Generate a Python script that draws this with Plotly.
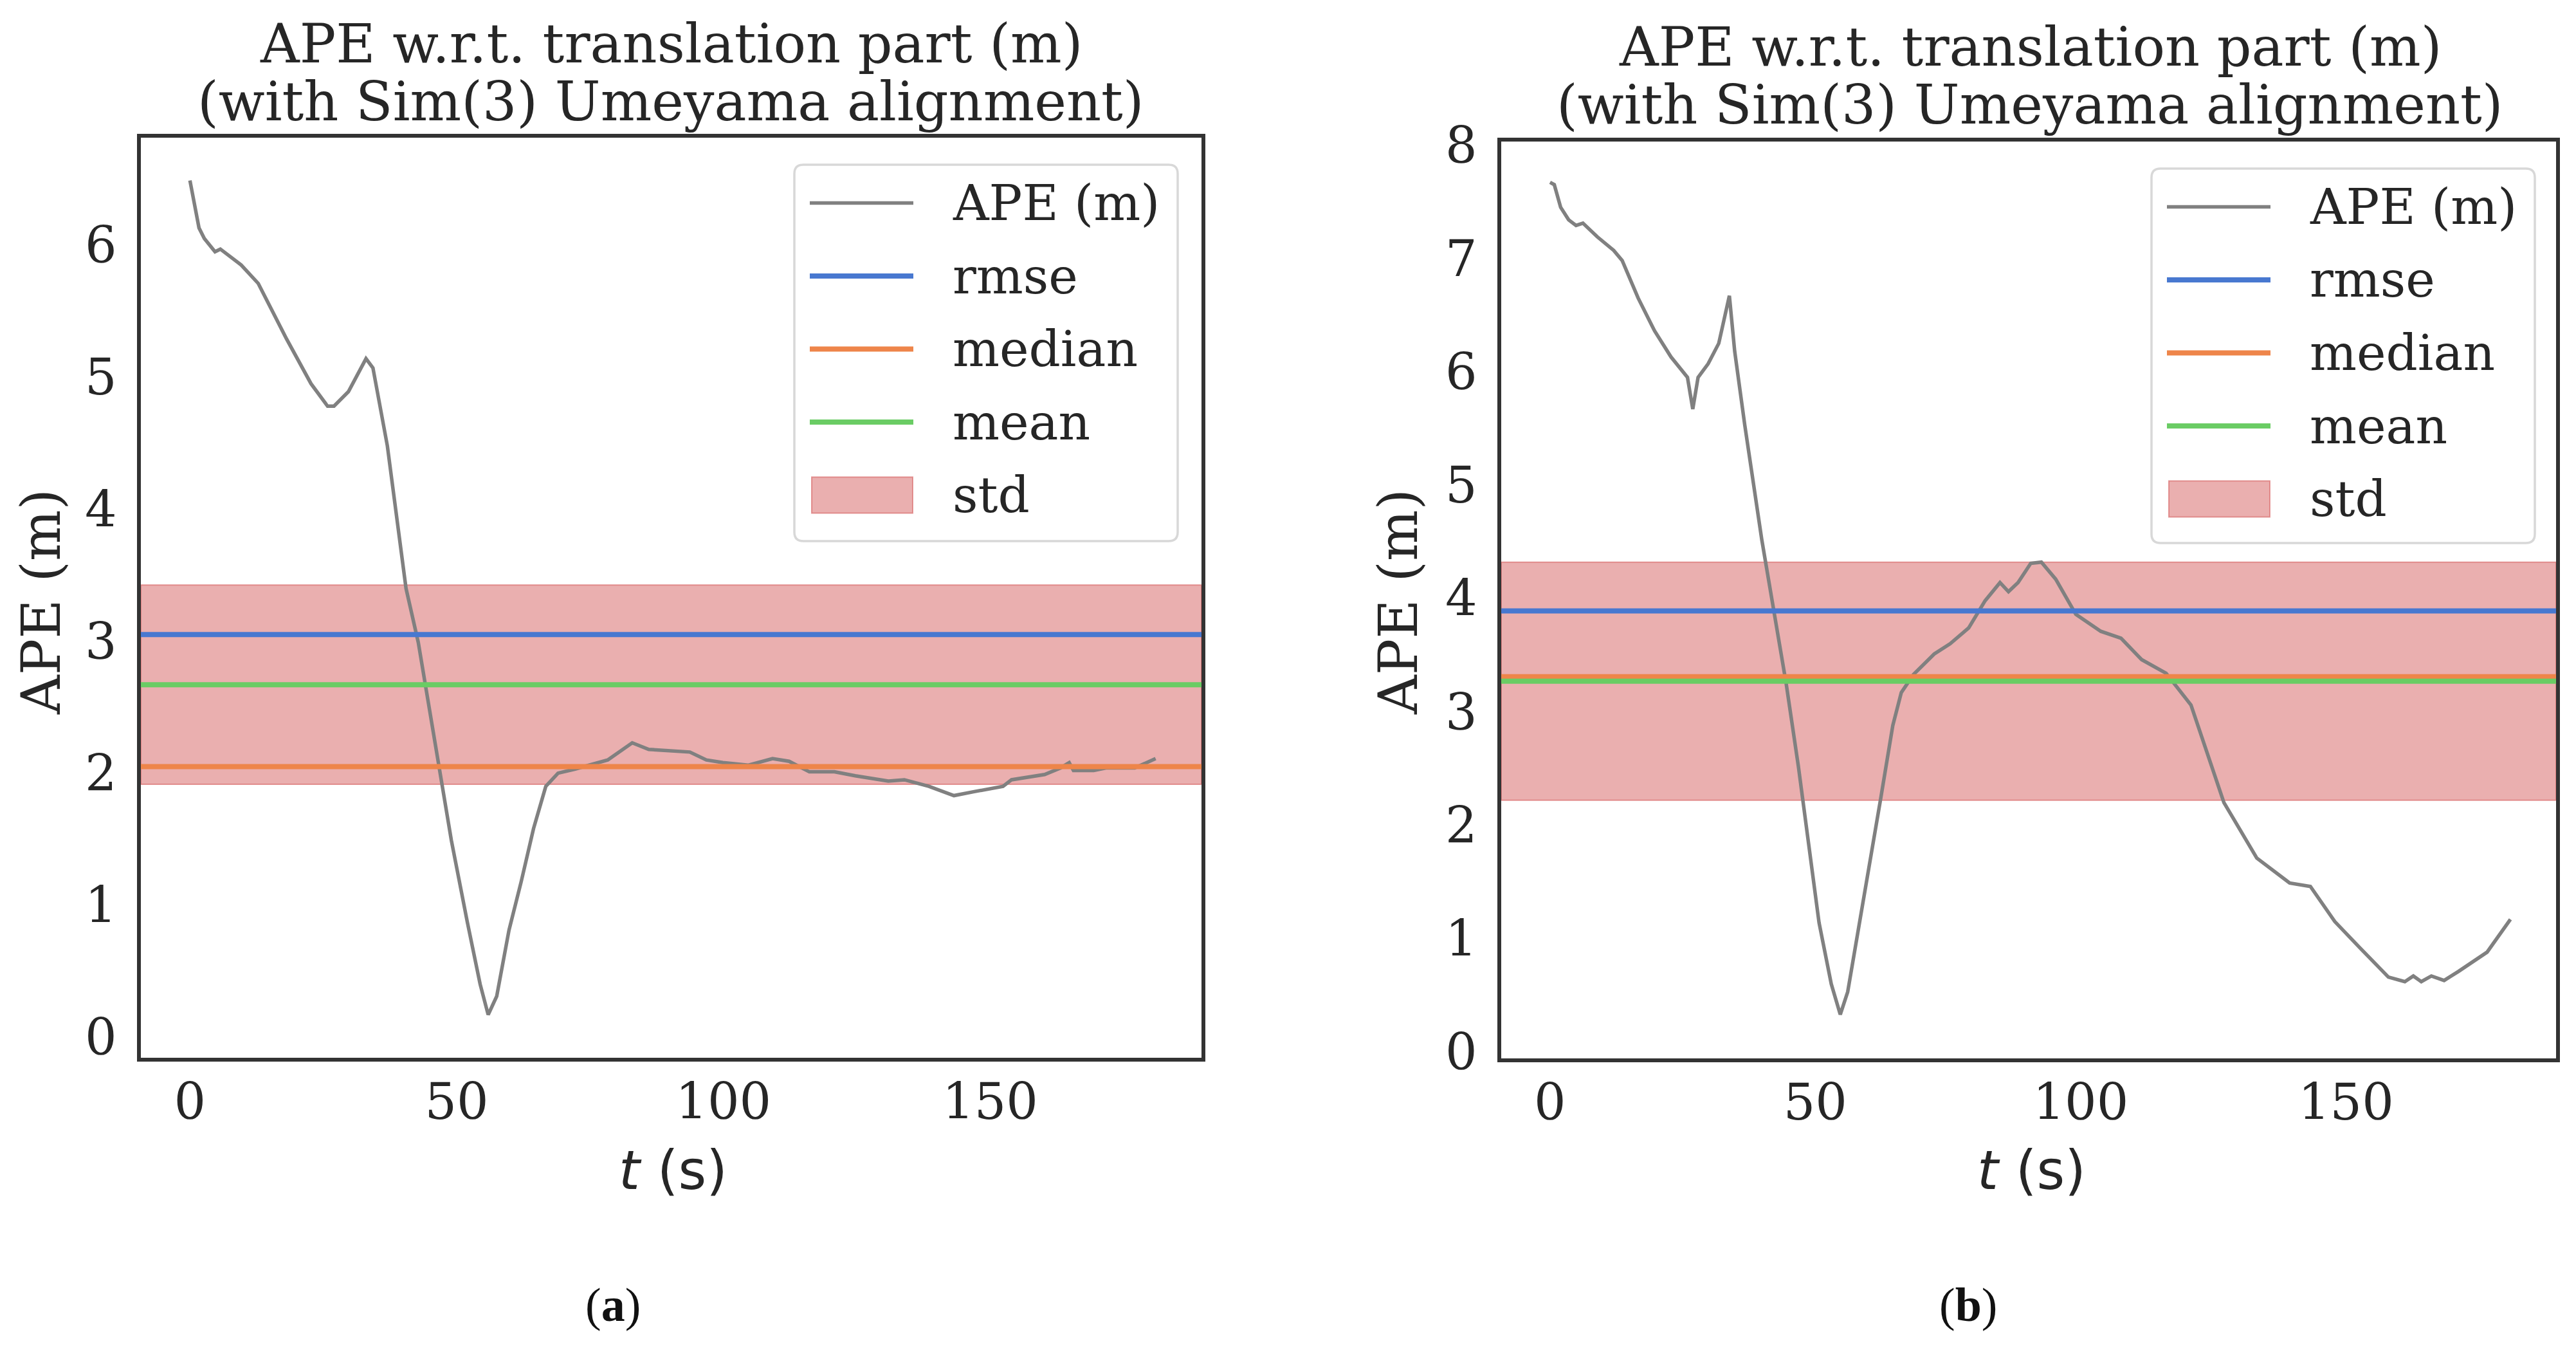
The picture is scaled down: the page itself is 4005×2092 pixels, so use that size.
import plotly.graph_objects as go

# APE courbe (a)
t_a = [0, 1.7, 2.7, 4.7, 5.7, 9.6, 12.8, 18.1, 22.7, 25.8, 27.0, 29.7, 33.0, 34.3, 37.0,
       40.5, 42.8, 45.9, 46.6, 49.0, 52.0, 54.4, 55.9, 57.5, 59.8, 62.1, 64.4, 66.7, 69.0,
       72.1, 78.3, 82.9, 86.0, 93.7, 96.8, 99.9, 104.6, 109.2, 112.3, 116.1, 120.8, 124.7,
       130.9, 133.9, 138.5, 143.2, 147.0, 152.4, 154.0, 160.2, 163.2, 164.8, 165.6, 169.4,
       171.7, 177.1, 181.0]
ape_a = [6.49, 6.13, 6.05, 5.95, 5.97, 5.85, 5.71, 5.29, 4.95, 4.78, 4.78, 4.89, 5.14, 5.07,
         4.48, 3.40, 2.99, 2.25, 2.08, 1.49, 0.87, 0.40, 0.17, 0.31, 0.81, 1.18, 1.58, 1.90,
         2.00, 2.03, 2.10, 2.23, 2.18, 2.16, 2.10, 2.08, 2.06, 2.11, 2.09, 2.01, 2.01, 1.98,
         1.94, 1.95, 1.90, 1.83, 1.86, 1.90, 1.95, 1.99, 2.04, 2.08, 2.02, 2.02, 2.04, 2.04,
         2.11]
rmse_a, median_a, mean_a, std_a = 3.05, 2.05, 2.67, 0.755

# APE courbe (b)
t_b = [0, 0.8, 2.0, 3.5, 4.9, 6.2, 8.9, 12.0, 13.6, 16.6, 19.7, 22.8, 25.9, 26.9, 27.9, 29.8,
       31.8, 32.9, 33.8, 34.8, 36.7, 39.9, 42.2, 44.5, 46.8, 48.4, 50.7, 53.0, 54.7, 56.1,
       59.2, 62.3, 64.6, 66.2, 68.5, 72.4, 75.4, 78.9, 82.0, 84.8, 86.4, 88.2, 90.6, 92.6,
       95.3, 99.1, 103.8, 107.6, 111.5, 116.1, 120.8, 127.0, 133.2, 139.4, 143.3, 147.9,
       152.6, 158.0, 161.1, 162.7, 164.2, 166.1, 168.5, 171.2, 176.6, 178.9, 181.0]
ape_b = [7.67, 7.65, 7.45, 7.34, 7.29, 7.31, 7.19, 7.07, 6.98, 6.65, 6.36, 6.13, 5.95, 5.67,
         5.95, 6.07, 6.25, 6.47, 6.67, 6.18, 5.53, 4.52, 3.87, 3.25, 2.52, 1.97, 1.14, 0.60,
         0.33, 0.53, 1.36, 2.23, 2.88, 3.17, 3.33, 3.51, 3.60, 3.74, 3.98, 4.14, 4.06, 4.14,
         4.31, 4.32, 4.17, 3.86, 3.71, 3.65, 3.46, 3.34, 3.06, 2.20, 1.71, 1.49, 1.46, 1.15,
         0.92, 0.66, 0.62, 0.67, 0.62, 0.67, 0.63, 0.71, 0.88, 1.03, 1.17]
rmse_b, median_b, mean_b, std_b = 3.89, 3.31, 3.27, 1.05

legende_noms = ['APE (m)', 'rmse', 'median', 'mean', 'std']
x_ticks = [0, 50, 100, 150]

W, H = 4005, 2092
OFF = 8  # marge du <body> de la page html
x_range = [-9.2, 189.6]
titre1 = "APE w.r.t. translation part (m)"
titre2 = "(with Sim(3) Umeyama alignment)"
couleurs = {'APE (m)': '#808080', 'rmse': '#4878d0', 'median': '#ee854a',
            'mean': '#6acc64', 'std': '#d65f5f'}
texte = '#262626'
serif = 'DejaVu Serif'


def px_x(p):
    return (p - OFF) / W


def px_y(p):
    return 1 - (p - OFF) / H


fig = go.Figure()


def ajouter_panneau(t, ape, rmse, median, mean, std, suffixe):
    xa = 'x' + suffixe
    ya = 'y' + suffixe
    x0, x1 = x_range
    # bande std (sous les courbes)
    fig.add_trace(go.Scatter(
        x=[x0, x1, x1, x0, x0], y=[mean - std, mean - std, mean + std, mean + std, mean - std],
        fill='toself', fillcolor='rgba(214,95,95,0.5)', mode='lines',
        line=dict(color='rgba(214,95,95,0.6)', width=2),
        name='std', showlegend=False, xaxis=xa, yaxis=ya))
    fig.add_trace(go.Scatter(
        x=t, y=ape, mode='lines', line=dict(color=couleurs['APE (m)'], width=5.5),
        name='APE (m)', showlegend=False, xaxis=xa, yaxis=ya))
    for nom, val in [('rmse', rmse), ('median', median), ('mean', mean)]:
        fig.add_trace(go.Scatter(
            x=[x0, x1], y=[val, val], mode='lines',
            line=dict(color=couleurs[nom], width=8),
            name=nom, showlegend=False, xaxis=xa, yaxis=ya))


ajouter_panneau(t_a, ape_a, rmse_a, median_a, mean_a, std_a, '')
ajouter_panneau(t_b, ape_b, rmse_b, median_b, mean_b, std_b, '2')


# légende dessinée (boîte arrondie, échantillons, textes)
def legende(gauche, haut, largeur, hauteur):
    r = 14
    g, d, h, b = gauche, gauche + largeur, haut, haut + hauteur
    chemin = (f"M {px_x(g + r)} {px_y(h)} L {px_x(d - r)} {px_y(h)} "
              f"Q {px_x(d)} {px_y(h)} {px_x(d)} {px_y(h + r)} "
              f"L {px_x(d)} {px_y(b - r)} Q {px_x(d)} {px_y(b)} {px_x(d - r)} {px_y(b)} "
              f"L {px_x(g + r)} {px_y(b)} Q {px_x(g)} {px_y(b)} {px_x(g)} {px_y(b - r)} "
              f"L {px_x(g)} {px_y(h + r)} Q {px_x(g)} {px_y(h)} {px_x(g + r)} {px_y(h)} Z")
    fig.add_shape(type='path', path=chemin, xref='paper', yref='paper',
                  fillcolor='rgba(255,255,255,0.8)', line=dict(color='#d8d8d8', width=3.5))
    for i, nom in enumerate(legende_noms):
        cy = haut + 59.5 + 113.5 * i
        if nom == 'std':
            fig.add_shape(type='rect', xref='paper', yref='paper',
                          x0=px_x(gauche + 27), x1=px_x(gauche + 184),
                          y0=px_y(cy - 28), y1=px_y(cy + 28),
                          fillcolor='rgba(214,95,95,0.5)',
                          line=dict(color='rgba(214,95,95,0.6)', width=2))
        else:
            fig.add_shape(type='line', xref='paper', yref='paper',
                          x0=px_x(gauche + 24), x1=px_x(gauche + 185),
                          y0=px_y(cy), y1=px_y(cy),
                          line=dict(color=couleurs[nom], width=5.5 if i == 0 else 8))
        fig.add_annotation(x=px_x(gauche + 244), y=px_y(cy), xref='paper', yref='paper',
                           text=nom, showarrow=False, xanchor='left', yanchor='middle',
                           font=dict(family=serif, size=77, color=texte))


legende(1235, 256, 596, 585)
legende(3345, 262, 596, 582)

axe_commun = dict(showline=True, mirror=True, linecolor='#333333', linewidth=5.5,
                  showgrid=False, zeroline=False, ticks='', ticklen=0, automargin=False,
                  tickfont=dict(family=serif, size=78, color=texte))

fig.update_layout(
    width=W, height=H,
    margin=dict(l=0, r=0, t=0, b=0, autoexpand=False),
    paper_bgcolor='white', plot_bgcolor='white',
    showlegend=False,
    xaxis=dict(axe_commun, domain=[px_x(219), px_x(1868)], range=x_range, anchor='y',
               tickvals=x_ticks, ticklabelstandoff=-4),
    yaxis=dict(axe_commun, domain=[px_y(1644), px_y(214)], range=[-0.156, 6.814], anchor='x',
               tickvals=[0, 1, 2, 3, 4, 5, 6], ticklabelstandoff=16),
    xaxis2=dict(axe_commun, domain=[px_x(2334), px_x(3974)], range=x_range, anchor='y2',
                tickvals=x_ticks, ticklabelstandoff=-4),
    yaxis2=dict(axe_commun, domain=[px_y(1645), px_y(220)], range=[-0.057, 8.03], anchor='x2',
                tickvals=[0, 1, 2, 3, 4, 5, 6, 7, 8], ticklabelstandoff=16),
)

# titres des sous-figures (deux lignes)
for cx, y1, y2 in [(1043, 68, 158), (3156, 73, 163)]:
    for ligne, cy in [(titre1, y1), (titre2, y2)]:
        fig.add_annotation(x=px_x(cx), y=px_y(cy), xref='paper', yref='paper', text=ligne,
                           showarrow=False, xanchor='center', yanchor='middle',
                           font=dict(family=serif, size=84, color=texte))

# titres des axes
for cx in [1046, 3158]:
    fig.add_annotation(x=px_x(cx), y=px_y(1819), xref='paper', yref='paper',
                       text='<i>t</i> (s)', showarrow=False, xanchor='center', yanchor='middle',
                       font=dict(family='DejaVu Sans', size=84, color=texte))
for cx in [64, 2174]:
    fig.add_annotation(x=px_x(cx), y=px_y(936), xref='paper', yref='paper',
                       text='APE (m)', showarrow=False, textangle=-90,
                       xanchor='center', yanchor='middle',
                       font=dict(family=serif, size=84, color=texte))

# légendes (a) et (b)
for cx, lettre in [(953, 'a'), (3060, 'b')]:
    fig.add_annotation(x=px_x(cx), y=px_y(2028), xref='paper', yref='paper',
                       text='(<b>' + lettre + '</b>)', showarrow=False,
                       xanchor='center', yanchor='middle',
                       font=dict(family='Liberation Serif', size=74, color='#111111'))

fig.write_html("out.html")
